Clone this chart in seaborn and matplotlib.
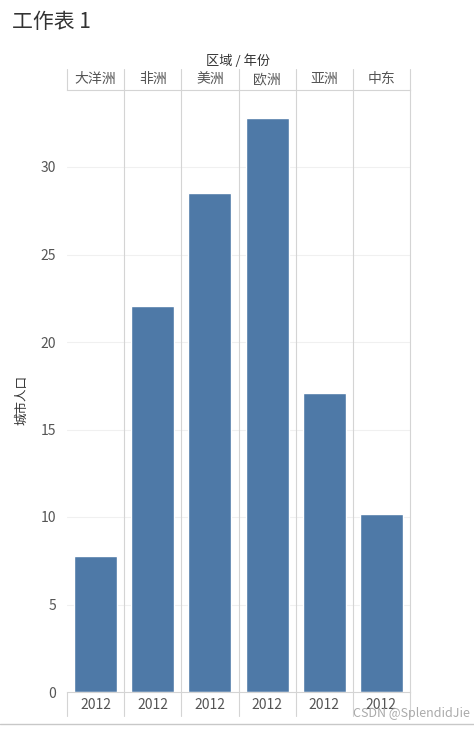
import matplotlib
matplotlib.use("Agg")
import matplotlib.pyplot as plt
import seaborn as sns
import pandas as pd

regions = ['大洋洲', '非洲', '美洲', '欧洲', '亚洲', '中东']
years = ['2012'] * 6
population = [7.75, 22.05, 28.5, 32.8, 17.1, 10.2]

sns.set_style('white')
plt.rcParams['font.family'] = ['Noto Sans CJK SC', 'DejaVu Sans']

df = pd.DataFrame({'region': regions, 'pop': population})

fig = plt.figure(figsize=(4.74, 7.32), dpi=100)
ax = fig.add_axes([67/474, 1 - 692/732, 343/474, 602/732])
sns.barplot(data=df, x='region', y='pop', color='#4e79a7', width=0.75,
            saturation=1, ax=ax)
ax.set_xlim(-0.5, 5.5)
ax.set_ylim(0, 34.4)
ax.set_yticks([0, 5, 10, 15, 20, 25, 30])
ax.set_yticklabels(['0', '5', '10', '15', '20', '25', '30'], color='#555555', fontsize=10)
ax.tick_params(axis='y', length=0, pad=8)
ax.set_xticks([])
ax.set_xlabel('')
ax.set_ylabel('')
for y in [5, 10, 15, 20, 25, 30]:
    ax.axhline(y, color='#f0f0f0', lw=0.8, zorder=0)
for x in range(1, 6):
    ax.axvline(x - 0.5, color='#d4d4d4', lw=0.8, zorder=0)
for s in ax.spines.values():
    s.set_color('#d4d4d4')
    s.set_linewidth(0.8)
ax.spines['left'].set_visible(False)

# header row and footer row
for i, (r, yr) in enumerate(zip(regions, years)):
    ax.text(i, 1.018, r, transform=ax.get_xaxis_transform(), ha='center',
            va='center', fontsize=10, color='#555555')
    ax.text(i, -0.022, yr, transform=ax.get_xaxis_transform(), ha='center',
            va='center', fontsize=10, color='#555555')
    ax.plot([i - 0.5, i - 0.5], [1.0, 1.035], transform=ax.get_xaxis_transform(),
            color='#d4d4d4', lw=0.8, clip_on=False)
    ax.plot([i - 0.5, i - 0.5], [0, -0.04], transform=ax.get_xaxis_transform(),
            color='#d4d4d4', lw=0.8, clip_on=False)
ax.plot([5.5, 5.5], [1.0, 1.035], transform=ax.get_xaxis_transform(),
        color='#d4d4d4', lw=0.8, clip_on=False)
ax.plot([5.5, 5.5], [0, -0.04], transform=ax.get_xaxis_transform(),
        color='#d4d4d4', lw=0.8, clip_on=False)

fig.text(22/474, 1 - 400/732, '城市人口', rotation=90, ha='center', va='center',
         fontsize=9, color='#333333')
fig.text(238/474, 1 - 61/732, '区域 / 年份', ha='center', va='center',
         fontsize=9.5, color='#333333')
fig.text(12/474, 1 - 22/732, '工作表 1', ha='left', va='center',
         fontsize=15, color='#333333')
fig.add_artist(plt.Line2D([0, 1], [1 - 724/732] * 2, color='#c8c8c8', lw=1))
fig.text(470/474, 1 - 713/732, 'CSDN @SplendidJie', ha='right', va='center',
         fontsize=9, color='#aaaaaa')

fig.savefig('out.png', dpi=100)
